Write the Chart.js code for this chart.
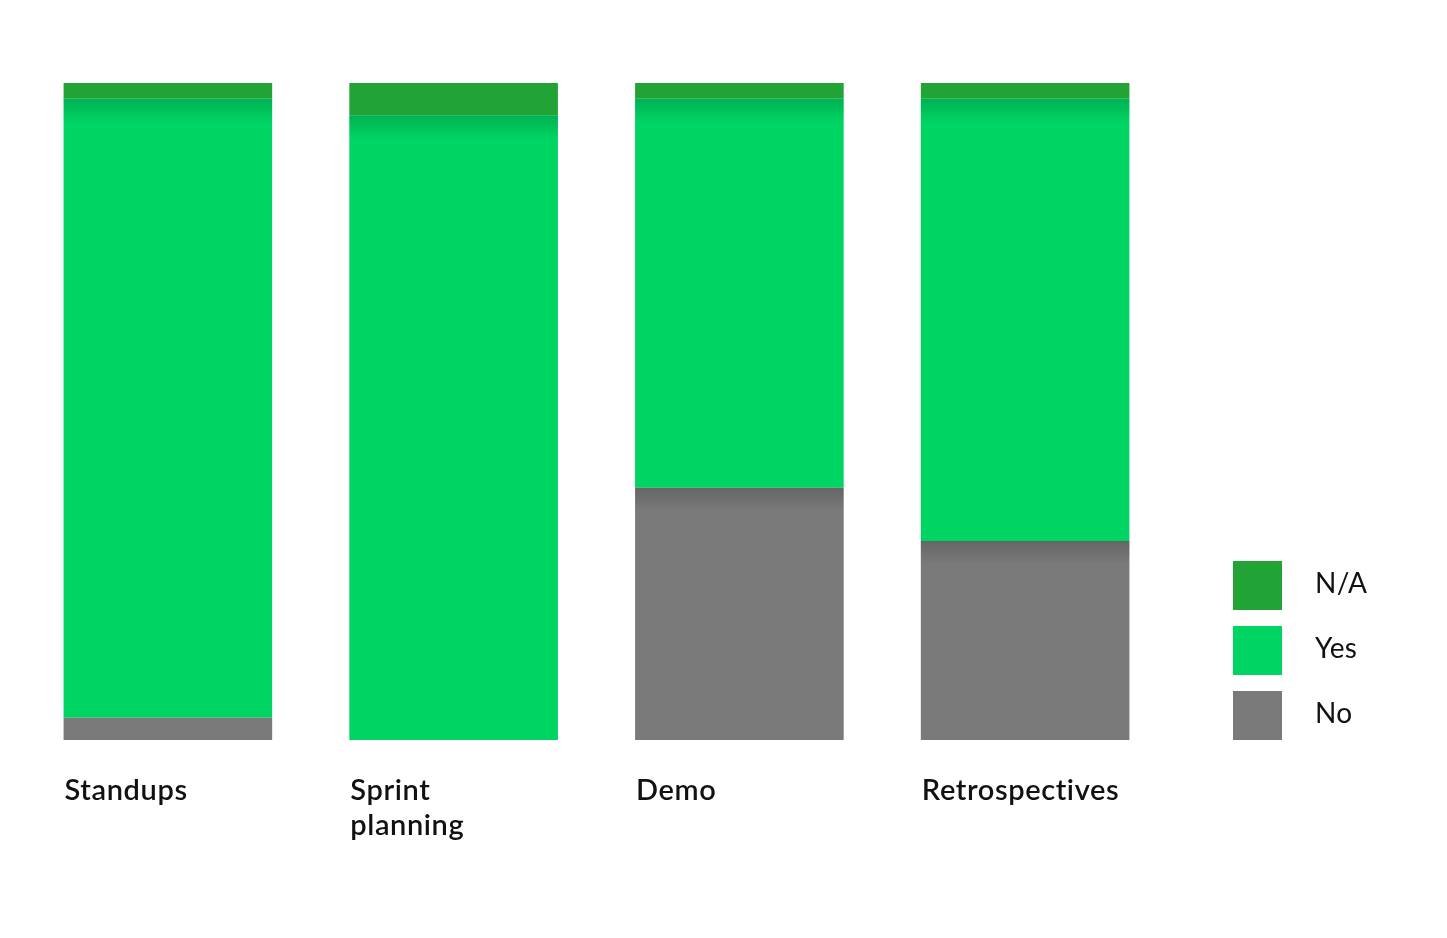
<!DOCTYPE html>
<html>
<head>
<meta charset="utf-8">
<script src="https://cdn.jsdelivr.net/npm/chart.js@4/dist/chart.umd.min.js"></script>
<style>
  html, body { margin: 0; padding: 0; background: #fff; }
  #wrap { position: relative; width: 1447px; height: 938px; }
  #legend { position: absolute; left: 1233px; top: 561px; font-family: Lato, "Open Sans", sans-serif; font-size: 28px; color: #111; letter-spacing: 0.3px; }
  .item { display: flex; align-items: center; height: 49px; margin-bottom: 16px; }
  .item span { position: relative; top: -4px; }
  .sw { width: 49px; height: 49px; margin-right: 33px; }
</style>
</head>
<body>
<div id="wrap">
  <canvas id="c" width="1447" height="938"></canvas>
  <div id="legend"></div>
</div>
<script>
const categories = [["Standups"], ["Sprint", "planning"], ["Demo"], ["Retrospectives"]];
const noValues  = [3.4, 0, 38.4, 30.3];
const yesValues = [94.2, 95.1, 59.2, 67.3];
const naValues  = [2.4, 4.9, 2.4, 2.4];
const seriesLabels = ["No", "Yes", "N/A"];
const seriesColors = ["#7a7a7a", "#00d563", "#21a336"];

const shadePlugin = {
  id: 'shade',
  afterDatasetsDraw(chart) {
    const ctx = chart.ctx;
    [0, 1].forEach(di => {
      const meta = chart.getDatasetMeta(di);
      meta.data.forEach((el, i) => {
        const top = Math.min(el.y, el.base);
        const h = Math.abs(el.base - el.y);
        if (h < 40) return;
        const sh = 24;
        const g = ctx.createLinearGradient(0, top, 0, top + sh);
        g.addColorStop(0, 'rgba(0,0,0,0.17)');
        g.addColorStop(1, 'rgba(0,0,0,0)');
        ctx.save();
        ctx.fillStyle = g;
        ctx.fillRect(el.x - el.width / 2, top, el.width, sh);
        ctx.restore();
      });
    });
  }
};

const labelPlugin = {
  id: 'catLabels',
  afterDraw(chart) {
    const ctx = chart.ctx;
    const meta = chart.getDatasetMeta(1);
    ctx.save();
    ctx.font = '600 29px Lato, "Open Sans", sans-serif';
    ctx.letterSpacing = '0.6px';
    ctx.fillStyle = '#111';
    ctx.textAlign = 'left';
    ctx.textBaseline = 'middle';
    meta.data.forEach((el, i) => {
      const x = el.x - el.width / 2;
      const lines = chart.data.labels[i];
      lines.forEach((t, j) => ctx.fillText(t, x + 1, chart.chartArea.bottom + 51 + j * 35));
    });
    ctx.restore();
  }
};

const chart = new Chart(document.getElementById('c'), {
  type: 'bar',
  data: {
    labels: categories,
    datasets: [
      { label: seriesLabels[0], data: noValues,  backgroundColor: seriesColors[0] },
      { label: seriesLabels[1], data: yesValues, backgroundColor: seriesColors[1] },
      { label: seriesLabels[2], data: naValues,  backgroundColor: seriesColors[2] }
    ]
  },
  options: {
    responsive: false,
    animation: false,
    devicePixelRatio: 1,
    layout: { padding: { top: 83, bottom: 198, left: 25, right: 279 } },
    datasets: { bar: { categoryPercentage: 1, barPercentage: 0.73, borderWidth: 0 } },
    plugins: { legend: { display: false }, tooltip: { enabled: false } },
    scales: {
      x: { stacked: true, display: false },
      y: { stacked: true, display: false, min: 0, max: 100 }
    }
  },
  plugins: [shadePlugin, labelPlugin]
});

const legend = document.getElementById('legend');
chart.data.datasets.slice().reverse().forEach(ds => {
  const it = document.createElement('div');
  it.className = 'item';
  const sw = document.createElement('div');
  sw.className = 'sw';
  sw.style.background = ds.backgroundColor;
  const tx = document.createElement('span');
  tx.textContent = ds.label;
  it.appendChild(sw); it.appendChild(tx);
  legend.appendChild(it);
});
</script>
</body>
</html>
